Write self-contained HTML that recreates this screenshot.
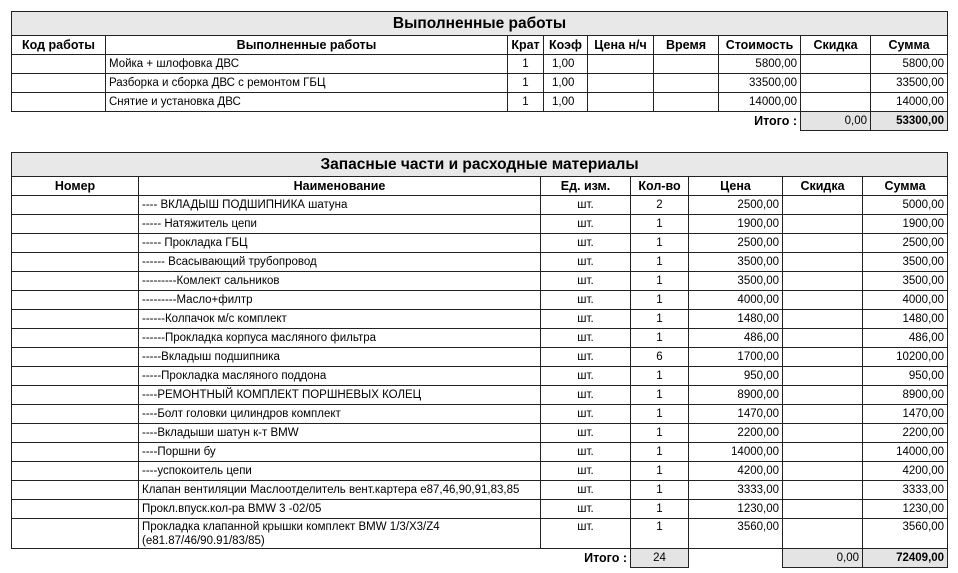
<!DOCTYPE html>
<html><head><meta charset="utf-8">
<style>
body{margin:0;width:958px;height:573px;background:#fff;font-family:"Liberation Sans",Arial,sans-serif;font-size:11.5px;color:#000;position:relative;overflow:hidden}
table{position:absolute;border-collapse:collapse;table-layout:fixed}
td{border:1px solid #222;padding:0 3px;height:18px;white-space:nowrap;overflow:hidden;vertical-align:middle}
.t td.title{background:#e8e8e8;font-weight:bold;font-size:15.5px;text-align:center;height:23px}
.h td{font-weight:bold;font-size:12.5px;text-align:center}
.c{text-align:center}.r{text-align:right}
.k{padding-left:8px}
.n{border:none}
.g{background:#e4e4e4}
.b{font-weight:bold}
</style></head><body>
<table class="t" style="left:11px;top:11px;width:936px">
<colgroup><col style="width:94px"><col style="width:402px"><col style="width:36px"><col style="width:44px"><col style="width:66px"><col style="width:65px"><col style="width:82px"><col style="width:70px"><col style="width:77px"></colgroup>
<tr><td class="title" colspan="9">Выполненные работы</td></tr>
<tr class="h"><td>Код работы</td><td>Выполненные работы</td><td>Крат</td><td>Коэф</td><td>Цена н/ч</td><td>Время</td><td>Стоимость</td><td>Скидка</td><td>Сумма</td></tr>
<tr><td></td><td>Мойка + шлофовка ДВС</td><td class="c">1</td><td class="k">1,00</td><td></td><td></td><td class="r">5800,00</td><td></td><td class="r">5800,00</td></tr>
<tr><td></td><td>Разборка и сборка ДВС с ремонтом ГБЦ</td><td class="c">1</td><td class="k">1,00</td><td></td><td></td><td class="r">33500,00</td><td></td><td class="r">33500,00</td></tr>
<tr><td></td><td>Снятие и установка ДВС</td><td class="c">1</td><td class="k">1,00</td><td></td><td></td><td class="r">14000,00</td><td></td><td class="r">14000,00</td></tr>
<tr><td class="n"></td><td class="n"></td><td class="n"></td><td class="n"></td><td class="n"></td><td class="n"></td><td class="n r b" style="font-size:12.5px">Итого :</td><td class="g r">0,00</td><td class="g r b">53300,00</td></tr>
</table>

<table class="t" style="left:11px;top:152px;width:936px">
<colgroup><col style="width:127px"><col style="width:402px"><col style="width:90px"><col style="width:58px"><col style="width:94px"><col style="width:80px"><col style="width:85px"></colgroup>
<tr><td class="title" colspan="7">Запасные части и расходные материалы</td></tr>
<tr class="h"><td>Номер</td><td>Наименование</td><td>Ед. изм.</td><td>Кол-во</td><td>Цена</td><td>Скидка</td><td>Сумма</td></tr>
<tr><td></td><td>---- ВКЛАДЫШ ПОДШИПНИКА  шатуна</td><td class="c">шт.</td><td class="c">2</td><td class="r">2500,00</td><td></td><td class="r">5000,00</td></tr>
<tr><td></td><td>----- Натяжитель цепи</td><td class="c">шт.</td><td class="c">1</td><td class="r">1900,00</td><td></td><td class="r">1900,00</td></tr>
<tr><td></td><td>----- Прокладка ГБЦ</td><td class="c">шт.</td><td class="c">1</td><td class="r">2500,00</td><td></td><td class="r">2500,00</td></tr>
<tr><td></td><td>------ Всасывающий трубопровод</td><td class="c">шт.</td><td class="c">1</td><td class="r">3500,00</td><td></td><td class="r">3500,00</td></tr>
<tr><td></td><td>---------Комлект сальников</td><td class="c">шт.</td><td class="c">1</td><td class="r">3500,00</td><td></td><td class="r">3500,00</td></tr>
<tr><td></td><td>---------Масло+филтр</td><td class="c">шт.</td><td class="c">1</td><td class="r">4000,00</td><td></td><td class="r">4000,00</td></tr>
<tr><td></td><td>------Колпачок м/с комплект</td><td class="c">шт.</td><td class="c">1</td><td class="r">1480,00</td><td></td><td class="r">1480,00</td></tr>
<tr><td></td><td>------Прокладка корпуса масляного фильтра</td><td class="c">шт.</td><td class="c">1</td><td class="r">486,00</td><td></td><td class="r">486,00</td></tr>
<tr><td></td><td>-----Вкладыш подшипника</td><td class="c">шт.</td><td class="c">6</td><td class="r">1700,00</td><td></td><td class="r">10200,00</td></tr>
<tr><td></td><td>-----Прокладка масляного поддона</td><td class="c">шт.</td><td class="c">1</td><td class="r">950,00</td><td></td><td class="r">950,00</td></tr>
<tr><td></td><td>----РЕМОНТНЫЙ КОМПЛЕКТ ПОРШНЕВЫХ КОЛЕЦ</td><td class="c">шт.</td><td class="c">1</td><td class="r">8900,00</td><td></td><td class="r">8900,00</td></tr>
<tr><td></td><td>----Болт головки цилиндров комплект</td><td class="c">шт.</td><td class="c">1</td><td class="r">1470,00</td><td></td><td class="r">1470,00</td></tr>
<tr><td></td><td>----Вкладыши шатун к-т BMW</td><td class="c">шт.</td><td class="c">1</td><td class="r">2200,00</td><td></td><td class="r">2200,00</td></tr>
<tr><td></td><td>----Поршни бу</td><td class="c">шт.</td><td class="c">1</td><td class="r">14000,00</td><td></td><td class="r">14000,00</td></tr>
<tr><td></td><td>----успокоитель цепи</td><td class="c">шт.</td><td class="c">1</td><td class="r">4200,00</td><td></td><td class="r">4200,00</td></tr>
<tr><td></td><td>Клапан вентиляции Маслоотделитель вент.картера е87,46,90,91,83,85</td><td class="c">шт.</td><td class="c">1</td><td class="r">3333,00</td><td></td><td class="r">3333,00</td></tr>
<tr><td></td><td>Прокл.впуск.кол-ра BMW 3 -02/05</td><td class="c">шт.</td><td class="c">1</td><td class="r">1230,00</td><td></td><td class="r">1230,00</td></tr>
<tr><td style="height:29px"></td><td style="vertical-align:top;line-height:14px;padding-top:1px">Прокладка клапанной крышки комплект BMW 1/3/X3/Z4<br>(е81.87/46/90.91/83/85)</td><td class="c" style="vertical-align:top;padding-top:2px">шт.</td><td class="c" style="vertical-align:top;padding-top:2px">1</td><td class="r" style="vertical-align:top;padding-top:2px">3560,00</td><td></td><td class="r" style="vertical-align:top;padding-top:2px">3560,00</td></tr>
<tr><td class="n"></td><td class="n"></td><td class="n r b" style="font-size:12.5px">Итого :</td><td class="g c">24</td><td class="n"></td><td class="g r">0,00</td><td class="g r b">72409,00</td></tr>
</table>
</body></html>
